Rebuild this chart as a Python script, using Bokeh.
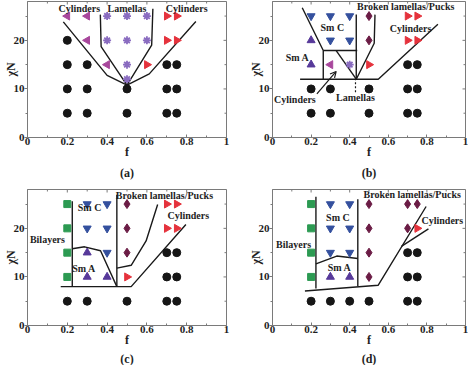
from bokeh.plotting import figure
from bokeh.models import Title, Range1d, FixedTicker, Arrow, OpenHead
from bokeh.layouts import column, row
from bokeh.core.properties import value
from bokeh.embed import file_html
from bokeh.resources import INLINE
import math

# ---------------- data ----------------
X_TICKS = [0, 0.2, 0.4, 0.6, 0.8, 1]
X_TICK_LABELS = ["0", "0.2", "0.4", "0.6", "0.8", "1"]
X_MINOR = [0.1, 0.3, 0.5, 0.7, 0.9]
Y_TICKS = [0, 10, 20]
Y_TICK_LABELS = ["0", "10", "20"]
Y_MINOR = [5, 15, 25]
X_MIN, X_MAX = 0, 1
Y_MIN, Y_MAX = 0, 28

# Panel (a)
A_CIRCLE_F = [0.2, 0.2, 0.2, 0.2, 0.3, 0.3, 0.3, 0.5, 0.5, 0.7, 0.7, 0.7, 0.75, 0.75, 0.75]
A_CIRCLE_X = [5, 10, 15, 20, 5, 10, 15, 5, 10, 5, 10, 15, 5, 10, 15]
A_LTRI_F = [0.2, 0.3, 0.3, 0.4]
A_LTRI_X = [25, 25, 20, 15]
A_STAR_F = [0.4, 0.4, 0.5, 0.5, 0.5, 0.5, 0.6, 0.6]
A_STAR_X = [25, 20, 25, 20, 15, 12, 25, 20]
A_RTRI_F = [0.6, 0.7, 0.7, 0.75, 0.75]
A_RTRI_X = [15, 25, 20, 25, 20]
A_LINES_F = [[0.18, 0.40, 0.50], [0.366, 0.37, 0.50], [0.63, 0.624, 0.50], [0.50, 0.612, 0.846]]
A_LINES_X = [[23.8, 12.8, 10.8], [25.3, 18.7, 10.8], [26.5, 19.0, 10.8], [10.8, 13.1, 23.9]]
A_TEXT = ["Cylinders", "Lamellas", "Cylinders"]
A_TEXT_F = [0.26, 0.50, 0.80]
A_TEXT_X = [26.6, 26.6, 26.6]

# Panel (b)
B_CIRCLE_F = [0.2, 0.2, 0.3, 0.3, 0.5, 0.5, 0.7, 0.7, 0.7, 0.75, 0.75, 0.75]
B_CIRCLE_X = [5, 10, 5, 10, 5, 10, 5, 10, 15, 5, 10, 15]
B_UTRI_F = [0.2, 0.2]
B_UTRI_X = [20, 15]
B_DTRI_F = [0.2, 0.3, 0.3, 0.4, 0.4]
B_DTRI_X = [25, 25, 20, 25, 20]
B_LTRI_F = [0.3]
B_LTRI_X = [15]
B_STAR_F = [0.4]
B_STAR_X = [15]
B_DIAM_F = [0.5, 0.5]
B_DIAM_X = [25, 20]
B_RTRI_F = [0.5, 0.7, 0.7, 0.75, 0.75]
B_RTRI_X = [15, 25, 20, 25, 20]
B_LINES_F = [[0.143, 0.548, 0.857], [0.154, 0.263, 0.263], [0.263, 0.439],
             [0.434, 0.434], [0.33, 0.434], [0.531, 0.527, 0.434]]
B_LINES_X = [[12.0, 12.0, 23.3], [26.7, 17.9, 12.0], [17.9, 17.9],
             [25.3, 12.0], [17.9, 12.0], [25.3, 19.4, 12.0]]
B_TEXT = ["Broken lamellas/Pucks", "Sm C", "Sm A", "Cylinders", "Cylinders", "Lamellas"]
B_TEXT_F = [0.69, 0.31, 0.13, 0.715, 0.116, 0.43]
B_TEXT_X = [27.0, 22.6, 16.4, 22.5, 7.8, 8.2]
B_ARROW_F = [0.23, 0.33]
B_ARROW_X = [9.0, 13.6]
B_DASH_F = [0.43, 0.43]
B_DASH_X = [9.3, 12.2]

# Panel (c)
C_SQUARE_F = [0.2, 0.2, 0.2, 0.2]
C_SQUARE_X = [25, 20, 15, 10]
C_CIRCLE_F = [0.2, 0.3, 0.5, 0.7, 0.7, 0.7, 0.75, 0.75, 0.75]
C_CIRCLE_X = [5, 5, 5, 5, 10, 15, 5, 10, 15]
C_DTRI_F = [0.3, 0.3, 0.4, 0.4, 0.4]
C_DTRI_X = [25, 20, 25, 20, 15]
C_UTRI_F = [0.3, 0.3, 0.4]
C_UTRI_X = [15, 10, 10]
C_DIAM_F = [0.5, 0.5, 0.5]
C_DIAM_X = [25, 20, 15]
C_RTRI_F = [0.5, 0.7, 0.7, 0.75, 0.75]
C_RTRI_X = [10, 25, 20, 25, 20]
C_LINES_F = [[0.167, 0.521, 0.796], [0.225, 0.225], [0.449, 0.449],
             [0.225, 0.287, 0.367, 0.449], [0.449, 0.521, 0.596, 0.654]]
C_LINES_X = [[8.0, 8.0, 20.8], [25.6, 8.0], [26.9, 8.0],
             [15.8, 16.2, 15.4, 8.0], [11.8, 12.4, 17.4, 24.9]]
C_TEXT = ["Broken lamellas/Pucks", "Sm C", "Bilayers", "Sm A", "Cylinders"]
C_TEXT_F = [0.688, 0.312, 0.10, 0.284, 0.808]
C_TEXT_X = [26.7, 24.2, 17.8, 11.7, 22.7]

# Panel (d)
D_SQUARE_F = [0.2, 0.2, 0.2, 0.2]
D_SQUARE_X = [25, 20, 15, 10]
D_CIRCLE_F = [0.2, 0.3, 0.4, 0.5, 0.7, 0.7, 0.7, 0.75, 0.75, 0.75]
D_CIRCLE_X = [5, 5, 5, 5, 5, 10, 15, 5, 10, 15]
D_DTRI_F = [0.3, 0.3, 0.3, 0.4, 0.4, 0.4]
D_DTRI_X = [25, 20, 15, 25, 20, 15]
D_UTRI_F = [0.3, 0.4]
D_UTRI_X = [10, 10]
D_DIAM_F = [0.5, 0.5, 0.5, 0.5, 0.7, 0.7, 0.75]
D_DIAM_X = [25, 20, 15, 10, 25, 20, 25]
D_RTRI_F = [0.75]
D_RTRI_X = [20]
D_LINES_F = [[0.168, 0.548, 0.796], [0.668, 0.808], [0.225, 0.225], [0.442, 0.442],
             [0.225, 0.333, 0.442]]
D_LINES_X = [[7.1, 8.3, 24.5], [16.3, 19.9], [26.5, 7.6], [26.0, 8.1],
             [12.7, 14.3, 13.8]]
D_TEXT = ["Broken lamellas/Pucks", "Sm C", "Bilayers", "Sm A", "Cylinders"]
D_TEXT_F = [0.724, 0.339, 0.109, 0.347, 0.88]
D_TEXT_X = [26.9, 22.3, 16.7, 12.0, 21.6]

# ---------------- style ----------------
FONT = "Liberation Serif"
AX = "#7a7a7a"
TXT = "#1e1e1e"
C_BLACK = "#161616"
C_LTRI = "#a8479c"
C_STAR = "#8a6cc0"
C_RTRI = "#e5323c"
C_DTRI = "#34509e"
C_UTRI = "#57399a"
C_DIAM = "#6b1c45"
C_SQ = "#2c9a52"


def style_axis(ax, ticks, minor, labels, tick_in, tick_out):
    ax.ticker = FixedTicker(ticks=ticks, minor_ticks=minor)
    ax.major_label_overrides = dict(zip(ticks, labels))
    ax.axis_line_color = AX
    ax.major_tick_line_color = AX
    ax.minor_tick_line_color = AX
    ax.major_tick_in = tick_in
    ax.major_tick_out = tick_out
    ax.minor_tick_in = 2 if tick_in else 0
    ax.minor_tick_out = 2 if tick_out else 0
    ax.major_label_text_font = FONT
    ax.major_label_text_font_style = "bold"
    ax.major_label_text_color = TXT
    ax.major_label_text_font_size = "11px"
    ax.major_label_standoff = 0
    ax.axis_label_text_font = FONT
    ax.axis_label_text_font_style = "bold"
    ax.axis_label_text_color = TXT
    ax.axis_label_text_font_size = "12px"


def make_fig(fw, fh, left, right, top, bottom, tag, title_standoff):
    p = figure(frame_width=fw, frame_height=fh,
               x_range=Range1d(X_MIN, X_MAX), y_range=Range1d(Y_MIN, Y_MAX),
               output_backend="svg", toolbar_location=None,
               min_border_left=left, min_border_right=right,
               min_border_top=top, min_border_bottom=bottom)
    p.grid.visible = False
    p.outline_line_color = AX
    p.xaxis.axis_label = "f"
    p.yaxis.axis_label = "χN"
    for ax in p.xaxis:
        style_axis(ax, X_TICKS, X_MINOR, X_TICK_LABELS, 3, 0)
        ax.axis_label_standoff = -3
    for ax in p.yaxis:
        style_axis(ax, Y_TICKS, Y_MINOR, Y_TICK_LABELS, 0, 3)
        ax.axis_label_standoff = -7
    # mirrored ticks on top and right edges (clipped to the frame -> inward ticks)
    p.scatter(X_TICKS, [Y_MAX] * len(X_TICKS), marker="dash", angle=math.pi / 2, size=6, line_color=AX)
    p.scatter(X_MINOR, [Y_MAX] * len(X_MINOR), marker="dash", angle=math.pi / 2, size=4, line_color=AX)
    p.scatter([X_MAX] * len(Y_TICKS), Y_TICKS, marker="dash", size=6, line_color=AX)
    p.scatter([X_MAX] * len(Y_MINOR), Y_MINOR, marker="dash", size=4, line_color=AX)
    t = Title(text=tag, align="center", text_font=FONT, text_font_style="bold",
              text_font_size="12px", text_color=TXT, standoff=title_standoff)
    p.add_layout(t, "below")
    return p


def markers(p, kind, f, x, color, size=8):
    if kind == "circle":
        p.scatter(f, x, marker="circle", size=size, fill_color=color, line_color=color)
    elif kind == "ltri":
        p.scatter(f, x, marker="triangle", size=size, angle=math.pi / 2, fill_color=color, line_color=color)
    elif kind == "rtri":
        p.scatter(f, x, marker="triangle", size=size, angle=-math.pi / 2, fill_color=color, line_color=color)
    elif kind == "utri":
        p.scatter(f, x, marker="triangle", size=size, fill_color=color, line_color=color)
    elif kind == "dtri":
        p.scatter(f, x, marker="inverted_triangle", size=size, fill_color=color, line_color=color)
    elif kind == "diam":
        p.scatter(f, x, marker="diamond", size=size + 1, fill_color=color, line_color=color)
    elif kind == "square":
        p.scatter(f, x, marker="square", size=size - 1, fill_color=color, line_color=color)
    elif kind == "star":
        p.scatter(f, x, marker="asterisk", size=size, line_color=color, line_width=1.8)
        p.scatter(f, x, marker="circle", size=4, fill_color=color, line_color=color)


def lines(p, fs, xs):
    p.multi_line(fs, xs, line_color="#1a1a1a", line_width=1.4)


def texts(p, t, f, x):
    p.text(f, x, text=t, text_font=value(FONT), text_font_style="bold", text_font_size="10px",
           text_align="center", text_baseline="middle", text_color=TXT)


pa = make_fig(199, 136, 0, 19, 1, 20, "(a)", 4)
lines(pa, A_LINES_F, A_LINES_X)
markers(pa, "circle", A_CIRCLE_F, A_CIRCLE_X, C_BLACK)
markers(pa, "ltri", A_LTRI_F, A_LTRI_X, C_LTRI)
markers(pa, "star", A_STAR_F, A_STAR_X, C_STAR)
markers(pa, "rtri", A_RTRI_F, A_RTRI_X, C_RTRI)
texts(pa, A_TEXT, A_TEXT_F, A_TEXT_X)

pb = make_fig(193, 136, 0, 3, 1, 20, "(b)", 4)
lines(pb, B_LINES_F, B_LINES_X)
pb.line(B_DASH_F, B_DASH_X, line_color="#1a1a1a", line_width=1.2, line_dash="2 2")
pb.add_layout(Arrow(x_start=B_ARROW_F[0], y_start=B_ARROW_X[0], x_end=B_ARROW_F[1], y_end=B_ARROW_X[1],
                    line_color="#1a1a1a", line_width=1.2,
                    end=OpenHead(size=6, line_color="#1a1a1a", line_width=1.2)))
markers(pb, "circle", B_CIRCLE_F, B_CIRCLE_X, C_BLACK)
markers(pb, "utri", B_UTRI_F, B_UTRI_X, C_UTRI)
markers(pb, "dtri", B_DTRI_F, B_DTRI_X, C_DTRI)
markers(pb, "ltri", B_LTRI_F, B_LTRI_X, C_LTRI)
markers(pb, "star", B_STAR_F, B_STAR_X, C_STAR)
markers(pb, "diam", B_DIAM_F, B_DIAM_X, C_DIAM)
markers(pb, "rtri", B_RTRI_F, B_RTRI_X, C_RTRI)
texts(pb, B_TEXT, B_TEXT_F, B_TEXT_X)

pc = make_fig(199, 136, 0, 19, 8, 10, "(c)", 0)
lines(pc, C_LINES_F, C_LINES_X)
markers(pc, "square", C_SQUARE_F, C_SQUARE_X, C_SQ)
markers(pc, "circle", C_CIRCLE_F, C_CIRCLE_X, C_BLACK)
markers(pc, "dtri", C_DTRI_F, C_DTRI_X, C_DTRI)
markers(pc, "utri", C_UTRI_F, C_UTRI_X, C_UTRI)
markers(pc, "diam", C_DIAM_F, C_DIAM_X, C_DIAM)
markers(pc, "rtri", C_RTRI_F, C_RTRI_X, C_RTRI)
texts(pc, C_TEXT, C_TEXT_F, C_TEXT_X)

pd = make_fig(193, 136, 0, 3, 8, 10, "(d)", 0)
lines(pd, D_LINES_F, D_LINES_X)
markers(pd, "square", D_SQUARE_F, D_SQUARE_X, C_SQ)
markers(pd, "circle", D_CIRCLE_F, D_CIRCLE_X, C_BLACK)
markers(pd, "dtri", D_DTRI_F, D_DTRI_X, C_DTRI)
markers(pd, "utri", D_UTRI_F, D_UTRI_X, C_UTRI)
markers(pd, "diam", D_DIAM_F, D_DIAM_X, C_DIAM)
markers(pd, "rtri", D_RTRI_F, D_RTRI_X, C_RTRI)
texts(pd, D_TEXT, D_TEXT_F, D_TEXT_X)

layout = column(row(pa, pb), row(pc, pd))
open("out.html", "w").write(file_html(layout, INLINE))
